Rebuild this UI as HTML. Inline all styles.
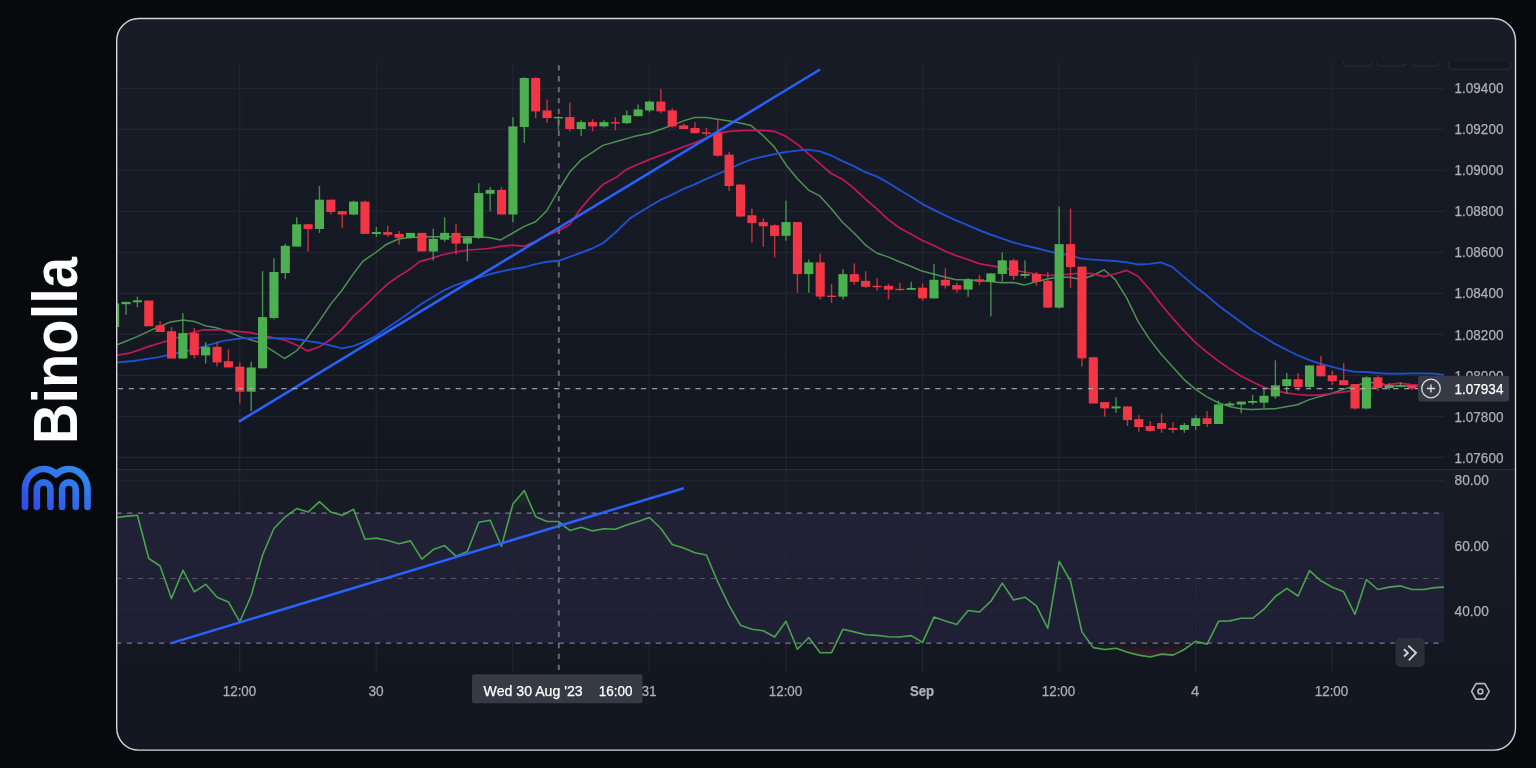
<!DOCTYPE html>
<html lang="en">
<head>
<meta charset="utf-8">
<title>Binolla chart</title>
<style>
html,body{margin:0;padding:0;background:#08090d;}
body{width:1536px;height:768px;overflow:hidden;position:relative;font-family:"Liberation Sans",sans-serif;}
svg{position:absolute;left:0;top:0;display:block;}
text{font-family:"Liberation Sans",sans-serif;}
</style>
</head>
<body>
<svg width="1536" height="768" viewBox="0 0 1536 768" style="will-change:transform">
<defs>
<linearGradient id="panebg" x1="0" y1="0" x2="0" y2="1">
<stop offset="0" stop-color="#181c27"/>
<stop offset="1" stop-color="#131722"/>
</linearGradient>
<linearGradient id="logog" gradientUnits="userSpaceOnUse" x1="40" y1="512" x2="72" y2="464">
<stop offset="0" stop-color="#2f4fe6"/>
<stop offset="1" stop-color="#2f8bee"/>
</linearGradient>
<linearGradient id="obfill" gradientUnits="userSpaceOnUse" x1="0" y1="488" x2="0" y2="513">
<stop offset="0" stop-color="#4caf50" stop-opacity="0.17"/>
<stop offset="1" stop-color="#4caf50" stop-opacity="0"/>
</linearGradient>
<linearGradient id="osfill" gradientUnits="userSpaceOnUse" x1="0" y1="643" x2="0" y2="660">
<stop offset="0" stop-color="#f23645" stop-opacity="0"/>
<stop offset="1" stop-color="#f23645" stop-opacity="0.22"/>
</linearGradient>
<clipPath id="cardclip"><rect x="117.2" y="19.2" width="1397.8" height="730.3" rx="21.3" ry="21.3"/></clipPath>
<clipPath id="plotclip"><rect x="117.1" y="62" width="1327.1" height="612"/></clipPath>
<clipPath id="above70"><rect x="117" y="470" width="1327" height="42.8"/></clipPath>
<clipPath id="below30"><rect x="117" y="642.9" width="1327" height="30"/></clipPath>
</defs>

<rect x="116.7" y="18.5" width="1398.8" height="731.6" rx="22" ry="22" fill="#131722" stroke="none"/>
<g clip-path="url(#cardclip)">
<rect x="116" y="18" width="1400" height="451.5" fill="url(#panebg)"/>
<rect x="116" y="469.5" width="1400" height="204" fill="url(#panebg)"/>
<g fill="none" stroke="#2a2e3a" stroke-width="1">
<path d="M1343.2 62 V62 Q1343.2 66 1347.2 66 H1367.8 Q1371.8 66 1371.8 62 V62"/>
<path d="M1376.6 62 V62 Q1376.6 66 1380.6 66 H1402 Q1406 66 1406 62 V62"/>
<path d="M1410.75 62 V62 Q1410.75 66 1414.75 66 H1435.1 Q1439.1 66 1439.1 62 V62"/>
<path d="M1449 62 V65.3 Q1449 69.3 1453 69.3 H1506.7 Q1510.7 69.3 1510.7 65.3 V62" fill="#141823"/>
</g>
<rect x="117.4" y="512.8" width="1326.8" height="130.1" fill="#7e57c2" fill-opacity="0.115"/>
<g stroke="#212530" stroke-width="1.3">
<line x1="117.4" y1="88.3" x2="1444.3" y2="88.3"/>
<line x1="117.4" y1="129.3" x2="1444.3" y2="129.3"/>
<line x1="117.4" y1="170.3" x2="1444.3" y2="170.3"/>
<line x1="117.4" y1="211.3" x2="1444.3" y2="211.3"/>
<line x1="117.4" y1="252.3" x2="1444.3" y2="252.3"/>
<line x1="117.4" y1="293.3" x2="1444.3" y2="293.3"/>
<line x1="117.4" y1="334.3" x2="1444.3" y2="334.3"/>
<line x1="117.4" y1="375.3" x2="1444.3" y2="375.3"/>
<line x1="117.4" y1="416.3" x2="1444.3" y2="416.3"/>
<line x1="117.4" y1="457.3" x2="1444.3" y2="457.3"/>
<line x1="117.4" y1="480.5" x2="1444.3" y2="480.5"/>
<line x1="117.4" y1="545.2" x2="1444.3" y2="545.2"/>
<line x1="117.4" y1="610.5" x2="1444.3" y2="610.5"/>
<line x1="239.7" y1="62" x2="239.7" y2="673"/>
<line x1="376.2" y1="62" x2="376.2" y2="673"/>
<line x1="512.8" y1="62" x2="512.8" y2="673"/>
<line x1="649.3" y1="62" x2="649.3" y2="673"/>
<line x1="785.9" y1="62" x2="785.9" y2="673"/>
<line x1="922.5" y1="62" x2="922.5" y2="673"/>
<line x1="1059.0" y1="62" x2="1059.0" y2="673"/>
<line x1="1195.6" y1="62" x2="1195.6" y2="673"/>
<line x1="1332.1" y1="62" x2="1332.1" y2="673"/>
</g>
<line x1="117.4" y1="469.5" x2="1515" y2="469.5" stroke="#2a2e39" stroke-width="1.2"/>
<g clip-path="url(#plotclip)">
<g fill="none" stroke-dasharray="5.3 5.5" stroke="#787b86">
<line x1="116.3" y1="513.1" x2="1444" y2="513.1" stroke-width="1.35"/>
<line x1="115.8" y1="643.1" x2="1444" y2="643.1" stroke-width="1.35"/>
<line x1="116.3" y1="578.5" x2="1444" y2="578.5" stroke-width="1.1" stroke-opacity="0.6"/>
</g>
<polygon clip-path="url(#above70)" fill="url(#obfill)" points="114.6,512.8 114.6,517.8 126.0,516.4 137.4,515.2 148.8,558.5 160.1,566.0 171.5,598.4 182.9,570.2 194.3,591.8 205.7,584.3 217.0,597.2 228.4,601.9 239.8,621.8 251.2,595.5 262.6,555.0 273.9,528.5 285.3,516.8 296.7,508.6 308.1,512.1 319.5,501.6 330.8,512.1 342.2,515.2 353.6,509.3 365.0,539.3 376.4,538.1 387.7,540.5 399.1,543.8 410.5,540.9 421.9,559.2 433.3,549.6 444.6,545.6 456.0,556.2 467.4,551.5 478.8,522.2 490.2,520.3 501.5,546.3 512.9,504.1 524.3,490.5 535.7,516.8 547.1,521.5 558.4,521.5 569.8,530.4 581.2,527.3 592.6,530.9 604.0,528.8 615.3,529.2 626.7,525.0 638.1,521.5 649.5,517.5 660.9,528.5 672.2,544.5 683.6,548.0 695.0,552.7 706.4,555.0 717.8,582.0 729.1,605.4 740.5,625.3 751.9,629.3 763.3,630.7 774.7,637.0 786.0,621.3 797.4,649.2 808.8,637.5 820.2,652.7 831.6,652.7 842.9,629.3 854.3,631.9 865.7,634.7 877.1,635.4 888.5,636.8 899.8,637.0 911.2,635.6 922.6,642.4 934.0,617.1 945.4,621.1 956.7,624.6 968.1,610.5 979.5,612.0 990.9,601.2 1002.3,583.1 1013.6,600.0 1025.0,597.2 1036.4,605.9 1047.8,628.4 1059.2,561.3 1070.5,580.8 1081.9,631.9 1093.3,647.6 1104.7,649.5 1116.1,648.3 1127.4,652.3 1138.8,655.1 1150.2,657.0 1161.6,654.1 1173.0,655.1 1184.3,649.5 1195.7,641.2 1207.1,644.1 1218.5,621.3 1229.9,620.9 1241.2,618.3 1252.6,618.3 1264.0,609.2 1275.4,596.5 1286.8,588.3 1298.1,596.0 1309.5,570.7 1320.9,580.8 1332.3,587.3 1343.7,591.8 1355.0,614.3 1366.4,579.6 1377.8,589.5 1389.2,587.1 1400.6,585.9 1411.9,589.5 1423.3,589.5 1434.7,587.6 1444.2,587.1 1444.2,512.8"/>
<polygon clip-path="url(#below30)" fill="url(#osfill)" points="114.6,642.9 114.6,517.8 126.0,516.4 137.4,515.2 148.8,558.5 160.1,566.0 171.5,598.4 182.9,570.2 194.3,591.8 205.7,584.3 217.0,597.2 228.4,601.9 239.8,621.8 251.2,595.5 262.6,555.0 273.9,528.5 285.3,516.8 296.7,508.6 308.1,512.1 319.5,501.6 330.8,512.1 342.2,515.2 353.6,509.3 365.0,539.3 376.4,538.1 387.7,540.5 399.1,543.8 410.5,540.9 421.9,559.2 433.3,549.6 444.6,545.6 456.0,556.2 467.4,551.5 478.8,522.2 490.2,520.3 501.5,546.3 512.9,504.1 524.3,490.5 535.7,516.8 547.1,521.5 558.4,521.5 569.8,530.4 581.2,527.3 592.6,530.9 604.0,528.8 615.3,529.2 626.7,525.0 638.1,521.5 649.5,517.5 660.9,528.5 672.2,544.5 683.6,548.0 695.0,552.7 706.4,555.0 717.8,582.0 729.1,605.4 740.5,625.3 751.9,629.3 763.3,630.7 774.7,637.0 786.0,621.3 797.4,649.2 808.8,637.5 820.2,652.7 831.6,652.7 842.9,629.3 854.3,631.9 865.7,634.7 877.1,635.4 888.5,636.8 899.8,637.0 911.2,635.6 922.6,642.4 934.0,617.1 945.4,621.1 956.7,624.6 968.1,610.5 979.5,612.0 990.9,601.2 1002.3,583.1 1013.6,600.0 1025.0,597.2 1036.4,605.9 1047.8,628.4 1059.2,561.3 1070.5,580.8 1081.9,631.9 1093.3,647.6 1104.7,649.5 1116.1,648.3 1127.4,652.3 1138.8,655.1 1150.2,657.0 1161.6,654.1 1173.0,655.1 1184.3,649.5 1195.7,641.2 1207.1,644.1 1218.5,621.3 1229.9,620.9 1241.2,618.3 1252.6,618.3 1264.0,609.2 1275.4,596.5 1286.8,588.3 1298.1,596.0 1309.5,570.7 1320.9,580.8 1332.3,587.3 1343.7,591.8 1355.0,614.3 1366.4,579.6 1377.8,589.5 1389.2,587.1 1400.6,585.9 1411.9,589.5 1423.3,589.5 1434.7,587.6 1444.2,587.1 1444.2,642.9"/>
<polyline fill="none" stroke="#4caf50" stroke-opacity="0.92" stroke-width="1.6" stroke-linejoin="round" points="114.6,517.8 126.0,516.4 137.4,515.2 148.8,558.5 160.1,566.0 171.5,598.4 182.9,570.2 194.3,591.8 205.7,584.3 217.0,597.2 228.4,601.9 239.8,621.8 251.2,595.5 262.6,555.0 273.9,528.5 285.3,516.8 296.7,508.6 308.1,512.1 319.5,501.6 330.8,512.1 342.2,515.2 353.6,509.3 365.0,539.3 376.4,538.1 387.7,540.5 399.1,543.8 410.5,540.9 421.9,559.2 433.3,549.6 444.6,545.6 456.0,556.2 467.4,551.5 478.8,522.2 490.2,520.3 501.5,546.3 512.9,504.1 524.3,490.5 535.7,516.8 547.1,521.5 558.4,521.5 569.8,530.4 581.2,527.3 592.6,530.9 604.0,528.8 615.3,529.2 626.7,525.0 638.1,521.5 649.5,517.5 660.9,528.5 672.2,544.5 683.6,548.0 695.0,552.7 706.4,555.0 717.8,582.0 729.1,605.4 740.5,625.3 751.9,629.3 763.3,630.7 774.7,637.0 786.0,621.3 797.4,649.2 808.8,637.5 820.2,652.7 831.6,652.7 842.9,629.3 854.3,631.9 865.7,634.7 877.1,635.4 888.5,636.8 899.8,637.0 911.2,635.6 922.6,642.4 934.0,617.1 945.4,621.1 956.7,624.6 968.1,610.5 979.5,612.0 990.9,601.2 1002.3,583.1 1013.6,600.0 1025.0,597.2 1036.4,605.9 1047.8,628.4 1059.2,561.3 1070.5,580.8 1081.9,631.9 1093.3,647.6 1104.7,649.5 1116.1,648.3 1127.4,652.3 1138.8,655.1 1150.2,657.0 1161.6,654.1 1173.0,655.1 1184.3,649.5 1195.7,641.2 1207.1,644.1 1218.5,621.3 1229.9,620.9 1241.2,618.3 1252.6,618.3 1264.0,609.2 1275.4,596.5 1286.8,588.3 1298.1,596.0 1309.5,570.7 1320.9,580.8 1332.3,587.3 1343.7,591.8 1355.0,614.3 1366.4,579.6 1377.8,589.5 1389.2,587.1 1400.6,585.9 1411.9,589.5 1423.3,589.5 1434.7,587.6 1444.2,587.1"/>
<polyline fill="none" stroke="#5bb05e" stroke-opacity="0.8" stroke-width="1.5" stroke-linejoin="round" points="114.0,346.0 117.8,344.5 137.3,336.6 154.9,328.4 170.5,322.0 183.2,320.0 194.0,321.4 205.7,325.9 215.5,327.5 227.2,331.2 239.9,336.6 258.4,342.1 272.1,350.3 284.4,358.5 290.0,355.2 297.0,350.5 307.7,337.2 318.9,321.6 330.6,304.4 342.0,290.3 353.3,273.9 363.3,260.8 375.0,253.0 386.7,244.2 398.4,239.0 410.2,237.4 430.0,236.8 474.9,236.8 488.6,237.4 500.7,239.9 512.0,233.5 523.8,226.6 535.5,221.8 546.6,211.0 558.9,189.5 569.6,172.3 581.4,159.6 602.9,145.4 620.0,140.5 633.7,136.6 649.3,133.2 661.0,129.3 671.8,125.4 683.5,120.9 694.2,117.6 705.9,117.6 717.6,119.2 729.4,120.9 740.1,122.9 750.9,125.4 762.6,135.2 774.3,146.9 785.9,164.7 797.2,178.4 808.5,190.1 819.8,195.9 831.2,208.6 842.5,222.3 853.8,232.7 865.2,244.8 876.5,253.0 888.0,256.9 899.3,261.8 910.7,266.2 921.9,271.1 933.4,274.0 944.7,276.9 956.1,279.8 967.4,279.8 978.9,280.4 990.2,281.4 1001.6,282.8 1012.9,282.4 1024.4,285.1 1035.7,281.8 1047.1,278.9 1058.4,276.9 1069.9,277.3 1081.2,279.4 1092.6,275.5 1104.0,269.8 1115.3,279.6 1126.8,298.1 1138.1,321.6 1149.5,339.1 1160.8,353.8 1172.3,366.5 1183.6,379.1 1195.0,388.9 1206.5,396.7 1217.8,402.5 1229.1,406.4 1240.5,408.8 1251.8,409.4 1263.3,409.1 1274.6,408.7 1286.0,406.8 1297.3,404.8 1308.8,399.9 1320.1,396.4 1331.4,393.5 1342.8,389.6 1354.3,385.7 1365.6,383.1 1377.0,382.3 1388.3,385.7 1399.8,386.0 1411.1,386.0 1422.5,385.7 1433.9,385.7 1444.0,385.7"/>
<polyline fill="none" stroke="#c2185b" stroke-width="1.7" stroke-linejoin="round" points="114.0,356.0 117.8,355.2 129.5,353.2 149.0,346.4 168.6,340.5 188.1,333.7 203.8,329.8 219.4,329.8 235.0,331.2 250.6,332.7 266.2,336.2 285.8,340.5 290.0,342.2 297.0,345.3 307.7,350.9 318.9,347.0 330.6,339.5 342.0,329.4 353.3,316.1 364.7,306.2 375.9,295.0 387.3,284.1 398.6,276.2 408.8,270.0 420.0,261.4 430.0,258.9 441.7,255.0 455.4,252.0 469.0,250.0 488.6,248.5 502.3,246.2 512.0,245.2 523.8,246.2 535.5,241.3 547.2,235.4 558.9,230.5 569.6,224.7 580.4,209.0 592.1,195.4 602.9,184.6 615.5,177.8 625.9,169.8 637.6,164.5 649.3,159.6 661.0,155.3 671.8,151.4 683.5,146.9 694.2,143.0 705.9,138.1 717.6,133.2 729.4,131.3 740.1,130.7 750.9,130.3 762.6,130.3 774.3,131.3 785.9,136.4 797.2,144.2 808.5,153.9 819.8,163.7 831.2,173.5 842.5,179.3 853.8,188.1 865.2,198.9 876.5,208.6 888.0,219.4 899.3,227.8 910.7,234.0 921.9,240.2 933.4,245.3 944.7,251.0 956.1,255.6 967.4,259.2 978.9,263.6 990.2,265.6 1001.6,267.7 1012.9,270.1 1024.4,272.0 1035.7,274.0 1047.1,275.5 1058.4,275.0 1069.9,274.0 1081.5,273.1 1092.6,273.7 1104.0,276.6 1115.3,273.7 1126.8,270.4 1138.1,276.2 1149.5,289.3 1160.8,304.0 1172.3,317.7 1183.6,330.4 1195.0,342.1 1206.5,351.8 1217.8,360.6 1229.1,368.4 1240.5,375.8 1251.8,381.6 1263.3,387.0 1274.6,390.5 1286.0,392.9 1297.3,394.5 1308.8,395.4 1320.1,394.8 1331.4,393.5 1342.8,392.1 1354.3,390.5 1365.6,388.6 1377.0,385.7 1388.3,384.7 1399.8,383.1 1411.1,384.7 1422.5,385.3 1433.9,385.5 1444.0,385.5"/>
<polyline fill="none" stroke="#1e50cf" stroke-width="1.9" stroke-linejoin="round" points="114.0,362.6 117.8,362.4 133.4,361.0 158.8,357.1 176.4,353.2 192.0,349.9 207.7,345.4 223.3,340.9 238.9,338.6 258.4,337.8 278.0,338.2 290.0,338.8 300.9,339.8 308.0,341.1 318.9,342.7 330.6,345.5 342.0,348.4 353.3,346.1 364.7,341.6 375.9,336.1 387.3,327.8 398.6,320.3 410.0,312.2 421.2,304.1 432.5,297.3 443.9,290.3 455.4,285.2 469.0,280.4 482.7,276.4 496.4,272.5 512.0,269.2 523.8,267.3 535.5,264.1 547.2,261.8 558.9,260.8 569.6,256.9 580.4,253.0 592.1,248.5 602.9,243.2 615.5,232.5 630.0,218.4 643.4,210.0 661.0,199.6 671.8,194.8 683.5,188.9 694.2,184.6 705.9,179.1 717.6,174.2 729.4,169.0 740.1,163.9 750.9,159.6 762.6,156.7 774.3,154.1 785.9,152.0 797.2,150.6 808.5,149.6 819.8,151.4 831.2,155.5 842.5,161.2 853.8,166.2 865.2,172.1 876.5,176.4 888.0,182.7 899.3,189.7 910.7,196.5 922.0,203.8 933.3,209.6 944.6,215.1 956.0,220.4 967.5,225.2 978.9,230.0 990.2,234.5 1001.6,238.4 1012.9,242.3 1024.4,245.3 1035.7,248.0 1047.1,250.9 1058.4,253.5 1069.9,255.3 1081.5,258.6 1092.6,259.6 1104.0,260.4 1115.3,261.0 1126.8,262.4 1138.1,264.5 1149.5,263.9 1160.8,262.4 1172.3,266.9 1183.6,276.6 1195.0,286.4 1206.5,295.2 1217.8,305.0 1229.1,313.5 1240.5,321.7 1251.8,330.0 1263.3,336.8 1274.6,343.7 1286.0,349.5 1297.3,355.0 1308.8,359.9 1320.1,363.6 1331.4,366.7 1342.8,369.6 1354.3,371.6 1365.6,372.0 1377.0,373.0 1388.3,373.6 1399.8,373.8 1411.1,373.4 1422.5,373.4 1433.6,373.6 1444.3,374.9"/>
<g>
<rect x="110.07" y="303.4" width="9.1" height="23.6" fill="#4caf50"/>
<rect x="125.30" y="301.9" width="1.4" height="12.9" fill="#4caf50" fill-opacity="0.8"/>
<rect x="121.45" y="301.9" width="9.1" height="2.3" fill="#4caf50"/>
<rect x="136.68" y="296.6" width="1.4" height="10.7" fill="#4caf50" fill-opacity="0.8"/>
<rect x="132.83" y="300.3" width="9.1" height="2.0" fill="#4caf50"/>
<rect x="144.21" y="300.5" width="9.1" height="25.8" fill="#f23645"/>
<rect x="159.44" y="321.0" width="1.4" height="11.0" fill="#f23645" fill-opacity="0.8"/>
<rect x="155.59" y="325.3" width="9.1" height="6.7" fill="#f23645"/>
<rect x="170.82" y="326.9" width="1.4" height="31.6" fill="#f23645" fill-opacity="0.8"/>
<rect x="166.97" y="331.2" width="9.1" height="27.3" fill="#f23645"/>
<rect x="182.20" y="313.2" width="1.4" height="45.3" fill="#4caf50" fill-opacity="0.8"/>
<rect x="178.35" y="333.1" width="9.1" height="25.4" fill="#4caf50"/>
<rect x="193.58" y="327.9" width="1.4" height="30.6" fill="#f23645" fill-opacity="0.8"/>
<rect x="189.73" y="333.1" width="9.1" height="22.1" fill="#f23645"/>
<rect x="204.96" y="342.1" width="1.4" height="21.5" fill="#4caf50" fill-opacity="0.8"/>
<rect x="201.11" y="346.8" width="9.1" height="8.6" fill="#4caf50"/>
<rect x="216.34" y="341.7" width="1.4" height="24.6" fill="#f23645" fill-opacity="0.8"/>
<rect x="212.49" y="346.8" width="9.1" height="15.6" fill="#f23645"/>
<rect x="227.72" y="349.3" width="1.4" height="18.2" fill="#f23645" fill-opacity="0.8"/>
<rect x="223.87" y="361.2" width="9.1" height="6.2" fill="#f23645"/>
<rect x="239.10" y="362.4" width="1.4" height="41.0" fill="#f23645" fill-opacity="0.8"/>
<rect x="235.25" y="366.7" width="9.1" height="25.0" fill="#f23645"/>
<rect x="250.48" y="361.6" width="1.4" height="49.6" fill="#4caf50" fill-opacity="0.8"/>
<rect x="246.63" y="367.5" width="9.1" height="24.2" fill="#4caf50"/>
<rect x="261.86" y="271.2" width="1.4" height="97.1" fill="#4caf50" fill-opacity="0.8"/>
<rect x="258.01" y="317.1" width="9.1" height="51.2" fill="#4caf50"/>
<rect x="273.24" y="258.3" width="1.4" height="61.1" fill="#4caf50" fill-opacity="0.8"/>
<rect x="269.39" y="272.0" width="9.1" height="46.0" fill="#4caf50"/>
<rect x="284.62" y="243.8" width="1.4" height="35.2" fill="#4caf50" fill-opacity="0.8"/>
<rect x="280.77" y="245.8" width="9.1" height="27.3" fill="#4caf50"/>
<rect x="296.00" y="217.3" width="1.4" height="29.3" fill="#4caf50" fill-opacity="0.8"/>
<rect x="292.15" y="224.3" width="9.1" height="22.3" fill="#4caf50"/>
<rect x="307.38" y="224.3" width="1.4" height="27.3" fill="#f23645" fill-opacity="0.8"/>
<rect x="303.53" y="224.3" width="9.1" height="4.7" fill="#f23645"/>
<rect x="318.76" y="186.0" width="1.4" height="46.9" fill="#4caf50" fill-opacity="0.8"/>
<rect x="314.91" y="199.7" width="9.1" height="29.3" fill="#4caf50"/>
<rect x="330.14" y="199.7" width="1.4" height="14.8" fill="#f23645" fill-opacity="0.8"/>
<rect x="326.29" y="199.7" width="9.1" height="12.3" fill="#f23645"/>
<rect x="341.52" y="211.2" width="1.4" height="17.0" fill="#f23645" fill-opacity="0.8"/>
<rect x="337.67" y="211.2" width="9.1" height="3.3" fill="#f23645"/>
<rect x="352.90" y="200.7" width="1.4" height="14.6" fill="#4caf50" fill-opacity="0.8"/>
<rect x="349.05" y="201.6" width="9.1" height="12.9" fill="#4caf50"/>
<rect x="364.28" y="200.7" width="1.4" height="33.2" fill="#f23645" fill-opacity="0.8"/>
<rect x="360.43" y="201.6" width="9.1" height="32.3" fill="#f23645"/>
<rect x="375.66" y="227.0" width="1.4" height="9.8" fill="#4caf50" fill-opacity="0.8"/>
<rect x="371.81" y="232.1" width="9.1" height="1.9" fill="#4caf50"/>
<rect x="387.04" y="226.0" width="1.4" height="10.8" fill="#f23645" fill-opacity="0.8"/>
<rect x="383.19" y="232.1" width="9.1" height="2.7" fill="#f23645"/>
<rect x="398.42" y="231.0" width="1.4" height="13.8" fill="#f23645" fill-opacity="0.8"/>
<rect x="394.57" y="234.0" width="9.1" height="3.8" fill="#f23645"/>
<rect x="409.80" y="232.9" width="1.4" height="5.8" fill="#4caf50" fill-opacity="0.8"/>
<rect x="405.95" y="232.9" width="9.1" height="4.9" fill="#4caf50"/>
<rect x="417.33" y="232.9" width="9.1" height="18.5" fill="#f23645"/>
<rect x="432.56" y="228.6" width="1.4" height="31.8" fill="#4caf50" fill-opacity="0.8"/>
<rect x="428.71" y="238.8" width="9.1" height="12.7" fill="#4caf50"/>
<rect x="443.94" y="217.3" width="1.4" height="24.4" fill="#4caf50" fill-opacity="0.8"/>
<rect x="440.09" y="232.9" width="9.1" height="6.8" fill="#4caf50"/>
<rect x="455.32" y="224.1" width="1.4" height="30.5" fill="#f23645" fill-opacity="0.8"/>
<rect x="451.47" y="232.9" width="9.1" height="10.7" fill="#f23645"/>
<rect x="466.70" y="236.4" width="1.4" height="25.0" fill="#4caf50" fill-opacity="0.8"/>
<rect x="462.85" y="237.4" width="9.1" height="6.2" fill="#4caf50"/>
<rect x="478.08" y="183.1" width="1.4" height="55.7" fill="#4caf50" fill-opacity="0.8"/>
<rect x="474.23" y="193.0" width="9.1" height="44.8" fill="#4caf50"/>
<rect x="489.46" y="187.0" width="1.4" height="24.4" fill="#4caf50" fill-opacity="0.8"/>
<rect x="485.61" y="189.9" width="9.1" height="3.9" fill="#4caf50"/>
<rect x="500.84" y="187.0" width="1.4" height="27.5" fill="#f23645" fill-opacity="0.8"/>
<rect x="496.99" y="189.9" width="9.1" height="24.6" fill="#f23645"/>
<rect x="512.22" y="117.2" width="1.4" height="105.1" fill="#4caf50" fill-opacity="0.8"/>
<rect x="508.37" y="126.4" width="9.1" height="88.1" fill="#4caf50"/>
<rect x="523.60" y="77.2" width="1.4" height="65.8" fill="#4caf50" fill-opacity="0.8"/>
<rect x="519.75" y="78.0" width="9.1" height="49.0" fill="#4caf50"/>
<rect x="534.98" y="77.2" width="1.4" height="41.0" fill="#f23645" fill-opacity="0.8"/>
<rect x="531.13" y="78.0" width="9.1" height="33.4" fill="#f23645"/>
<rect x="546.36" y="99.6" width="1.4" height="23.4" fill="#f23645" fill-opacity="0.8"/>
<rect x="542.51" y="110.4" width="9.1" height="7.6" fill="#f23645"/>
<rect x="557.74" y="116.2" width="1.4" height="14.1" fill="#4caf50" fill-opacity="0.8"/>
<rect x="553.89" y="117.0" width="9.1" height="1.3" fill="#4caf50"/>
<rect x="569.12" y="102.6" width="1.4" height="28.7" fill="#f23645" fill-opacity="0.8"/>
<rect x="565.27" y="117.0" width="9.1" height="12.0" fill="#f23645"/>
<rect x="580.50" y="120.2" width="1.4" height="16.0" fill="#4caf50" fill-opacity="0.8"/>
<rect x="576.65" y="122.1" width="9.1" height="6.9" fill="#4caf50"/>
<rect x="591.88" y="119.2" width="1.4" height="12.1" fill="#f23645" fill-opacity="0.8"/>
<rect x="588.03" y="122.1" width="9.1" height="4.3" fill="#f23645"/>
<rect x="603.26" y="120.2" width="1.4" height="7.2" fill="#4caf50" fill-opacity="0.8"/>
<rect x="599.41" y="122.1" width="9.1" height="4.3" fill="#4caf50"/>
<rect x="614.64" y="117.2" width="1.4" height="13.1" fill="#f23645" fill-opacity="0.8"/>
<rect x="610.79" y="122.1" width="9.1" height="1.4" fill="#f23645"/>
<rect x="626.02" y="110.4" width="1.4" height="13.6" fill="#4caf50" fill-opacity="0.8"/>
<rect x="622.17" y="115.3" width="9.1" height="7.8" fill="#4caf50"/>
<rect x="637.40" y="104.5" width="1.4" height="11.8" fill="#4caf50" fill-opacity="0.8"/>
<rect x="633.55" y="109.4" width="9.1" height="6.8" fill="#4caf50"/>
<rect x="648.78" y="100.6" width="1.4" height="11.7" fill="#4caf50" fill-opacity="0.8"/>
<rect x="644.93" y="101.6" width="9.1" height="8.8" fill="#4caf50"/>
<rect x="660.16" y="88.9" width="1.4" height="24.4" fill="#f23645" fill-opacity="0.8"/>
<rect x="656.31" y="101.6" width="9.1" height="9.8" fill="#f23645"/>
<rect x="671.54" y="108.2" width="1.4" height="19.2" fill="#f23645" fill-opacity="0.8"/>
<rect x="667.69" y="110.4" width="9.1" height="16.0" fill="#f23645"/>
<rect x="682.92" y="123.5" width="1.4" height="5.5" fill="#f23645" fill-opacity="0.8"/>
<rect x="679.07" y="125.4" width="9.1" height="3.6" fill="#f23645"/>
<rect x="694.30" y="122.1" width="1.4" height="11.1" fill="#f23645" fill-opacity="0.8"/>
<rect x="690.45" y="128.0" width="9.1" height="5.2" fill="#f23645"/>
<rect x="705.68" y="128.0" width="1.4" height="8.2" fill="#f23645" fill-opacity="0.8"/>
<rect x="701.83" y="132.3" width="9.1" height="1.5" fill="#f23645"/>
<rect x="717.06" y="119.2" width="1.4" height="37.5" fill="#f23645" fill-opacity="0.8"/>
<rect x="713.21" y="132.9" width="9.1" height="22.8" fill="#f23645"/>
<rect x="728.44" y="151.8" width="1.4" height="39.1" fill="#f23645" fill-opacity="0.8"/>
<rect x="724.59" y="154.7" width="9.1" height="31.3" fill="#f23645"/>
<rect x="739.82" y="183.7" width="1.4" height="33.6" fill="#f23645" fill-opacity="0.8"/>
<rect x="735.97" y="184.6" width="9.1" height="31.9" fill="#f23645"/>
<rect x="751.20" y="208.5" width="1.4" height="34.4" fill="#f23645" fill-opacity="0.8"/>
<rect x="747.35" y="215.3" width="9.1" height="7.8" fill="#f23645"/>
<rect x="762.58" y="218.2" width="1.4" height="28.6" fill="#f23645" fill-opacity="0.8"/>
<rect x="758.73" y="222.1" width="9.1" height="4.2" fill="#f23645"/>
<rect x="773.96" y="224.3" width="1.4" height="33.2" fill="#f23645" fill-opacity="0.8"/>
<rect x="770.11" y="225.3" width="9.1" height="10.7" fill="#f23645"/>
<rect x="785.34" y="200.7" width="1.4" height="40.0" fill="#4caf50" fill-opacity="0.8"/>
<rect x="781.49" y="222.1" width="9.1" height="13.7" fill="#4caf50"/>
<rect x="796.72" y="222.1" width="1.4" height="70.6" fill="#f23645" fill-opacity="0.8"/>
<rect x="792.87" y="222.1" width="9.1" height="52.0" fill="#f23645"/>
<rect x="808.10" y="259.5" width="1.4" height="33.2" fill="#4caf50" fill-opacity="0.8"/>
<rect x="804.25" y="262.4" width="9.1" height="11.7" fill="#4caf50"/>
<rect x="819.48" y="253.6" width="1.4" height="45.9" fill="#f23645" fill-opacity="0.8"/>
<rect x="815.63" y="262.4" width="9.1" height="34.2" fill="#f23645"/>
<rect x="830.86" y="283.9" width="1.4" height="18.9" fill="#f23645" fill-opacity="0.8"/>
<rect x="827.01" y="295.6" width="9.1" height="1.4" fill="#f23645"/>
<rect x="842.24" y="269.2" width="1.4" height="30.3" fill="#4caf50" fill-opacity="0.8"/>
<rect x="838.39" y="274.1" width="9.1" height="22.5" fill="#4caf50"/>
<rect x="853.62" y="263.4" width="1.4" height="21.4" fill="#f23645" fill-opacity="0.8"/>
<rect x="849.77" y="274.1" width="9.1" height="7.8" fill="#f23645"/>
<rect x="865.00" y="271.2" width="1.4" height="16.6" fill="#f23645" fill-opacity="0.8"/>
<rect x="861.15" y="280.9" width="9.1" height="5.9" fill="#f23645"/>
<rect x="876.38" y="278.0" width="1.4" height="12.7" fill="#f23645" fill-opacity="0.8"/>
<rect x="872.53" y="285.8" width="9.1" height="1.4" fill="#f23645"/>
<rect x="887.76" y="284.0" width="1.4" height="15.5" fill="#f23645" fill-opacity="0.8"/>
<rect x="883.91" y="285.8" width="9.1" height="3.9" fill="#f23645"/>
<rect x="899.14" y="282.9" width="1.4" height="7.8" fill="#f23645" fill-opacity="0.8"/>
<rect x="895.29" y="288.8" width="9.1" height="1.3" fill="#f23645"/>
<rect x="910.52" y="281.8" width="1.4" height="8.0" fill="#4caf50" fill-opacity="0.8"/>
<rect x="906.67" y="288.0" width="9.1" height="1.8" fill="#4caf50"/>
<rect x="921.90" y="283.4" width="1.4" height="17.3" fill="#f23645" fill-opacity="0.8"/>
<rect x="918.05" y="287.7" width="9.1" height="10.7" fill="#f23645"/>
<rect x="933.28" y="264.2" width="1.4" height="34.2" fill="#4caf50" fill-opacity="0.8"/>
<rect x="929.43" y="279.8" width="9.1" height="18.6" fill="#4caf50"/>
<rect x="944.66" y="268.1" width="1.4" height="20.5" fill="#f23645" fill-opacity="0.8"/>
<rect x="940.81" y="279.8" width="9.1" height="5.9" fill="#f23645"/>
<rect x="956.04" y="282.8" width="1.4" height="9.7" fill="#f23645" fill-opacity="0.8"/>
<rect x="952.19" y="285.1" width="9.1" height="4.5" fill="#f23645"/>
<rect x="967.42" y="278.0" width="1.4" height="18.8" fill="#4caf50" fill-opacity="0.8"/>
<rect x="963.57" y="279.5" width="9.1" height="10.1" fill="#4caf50"/>
<rect x="978.80" y="275.0" width="1.4" height="10.1" fill="#f23645" fill-opacity="0.8"/>
<rect x="974.95" y="279.3" width="9.1" height="2.5" fill="#f23645"/>
<rect x="990.18" y="273.4" width="1.4" height="43.0" fill="#4caf50" fill-opacity="0.8"/>
<rect x="986.33" y="273.4" width="9.1" height="8.4" fill="#4caf50"/>
<rect x="1001.56" y="252.5" width="1.4" height="29.3" fill="#4caf50" fill-opacity="0.8"/>
<rect x="997.71" y="260.3" width="9.1" height="13.7" fill="#4caf50"/>
<rect x="1012.94" y="258.7" width="1.4" height="21.1" fill="#f23645" fill-opacity="0.8"/>
<rect x="1009.09" y="260.3" width="9.1" height="15.6" fill="#f23645"/>
<rect x="1024.32" y="260.3" width="1.4" height="18.0" fill="#4caf50" fill-opacity="0.8"/>
<rect x="1020.47" y="274.0" width="9.1" height="1.9" fill="#4caf50"/>
<rect x="1035.70" y="272.0" width="1.4" height="13.7" fill="#f23645" fill-opacity="0.8"/>
<rect x="1031.85" y="274.0" width="9.1" height="7.8" fill="#f23645"/>
<rect x="1047.08" y="272.0" width="1.4" height="35.6" fill="#f23645" fill-opacity="0.8"/>
<rect x="1043.23" y="280.8" width="9.1" height="26.8" fill="#f23645"/>
<rect x="1058.46" y="206.6" width="1.4" height="102.0" fill="#4caf50" fill-opacity="0.8"/>
<rect x="1054.61" y="244.1" width="9.1" height="63.5" fill="#4caf50"/>
<rect x="1069.84" y="208.6" width="1.4" height="79.1" fill="#f23645" fill-opacity="0.8"/>
<rect x="1065.99" y="244.1" width="9.1" height="23.0" fill="#f23645"/>
<rect x="1081.22" y="266.6" width="1.4" height="99.9" fill="#f23645" fill-opacity="0.8"/>
<rect x="1077.37" y="266.6" width="9.1" height="91.7" fill="#f23645"/>
<rect x="1088.75" y="357.2" width="9.1" height="46.3" fill="#f23645"/>
<rect x="1103.98" y="402.1" width="1.4" height="14.5" fill="#f23645" fill-opacity="0.8"/>
<rect x="1100.13" y="402.1" width="9.1" height="6.3" fill="#f23645"/>
<rect x="1115.36" y="397.3" width="1.4" height="15.4" fill="#4caf50" fill-opacity="0.8"/>
<rect x="1111.51" y="406.4" width="9.1" height="2.0" fill="#4caf50"/>
<rect x="1126.74" y="406.4" width="1.4" height="19.6" fill="#f23645" fill-opacity="0.8"/>
<rect x="1122.89" y="406.4" width="9.1" height="13.7" fill="#f23645"/>
<rect x="1138.12" y="415.2" width="1.4" height="16.6" fill="#f23645" fill-opacity="0.8"/>
<rect x="1134.27" y="419.1" width="9.1" height="7.9" fill="#f23645"/>
<rect x="1149.50" y="421.1" width="1.4" height="10.7" fill="#f23645" fill-opacity="0.8"/>
<rect x="1145.65" y="426.0" width="9.1" height="4.9" fill="#f23645"/>
<rect x="1160.88" y="413.3" width="1.4" height="19.5" fill="#f23645" fill-opacity="0.8"/>
<rect x="1157.03" y="423.0" width="9.1" height="5.9" fill="#f23645"/>
<rect x="1172.26" y="422.1" width="1.4" height="10.7" fill="#f23645" fill-opacity="0.8"/>
<rect x="1168.41" y="427.9" width="9.1" height="2.0" fill="#f23645"/>
<rect x="1183.64" y="423.0" width="1.4" height="9.8" fill="#4caf50" fill-opacity="0.8"/>
<rect x="1179.79" y="425.0" width="9.1" height="4.9" fill="#4caf50"/>
<rect x="1195.02" y="415.2" width="1.4" height="14.7" fill="#4caf50" fill-opacity="0.8"/>
<rect x="1191.17" y="418.2" width="9.1" height="7.8" fill="#4caf50"/>
<rect x="1206.40" y="411.3" width="1.4" height="15.7" fill="#f23645" fill-opacity="0.8"/>
<rect x="1202.55" y="418.2" width="9.1" height="5.8" fill="#f23645"/>
<rect x="1217.78" y="400.6" width="1.4" height="23.4" fill="#4caf50" fill-opacity="0.8"/>
<rect x="1213.93" y="404.5" width="9.1" height="19.5" fill="#4caf50"/>
<rect x="1229.16" y="401.6" width="1.4" height="5.4" fill="#4caf50" fill-opacity="0.8"/>
<rect x="1225.31" y="403.5" width="9.1" height="2.0" fill="#4caf50"/>
<rect x="1240.54" y="401.6" width="1.4" height="11.7" fill="#4caf50" fill-opacity="0.8"/>
<rect x="1236.69" y="401.6" width="9.1" height="2.9" fill="#4caf50"/>
<rect x="1251.92" y="394.8" width="1.4" height="9.9" fill="#4caf50" fill-opacity="0.8"/>
<rect x="1248.07" y="401.0" width="9.1" height="1.8" fill="#4caf50"/>
<rect x="1263.30" y="387.6" width="1.4" height="20.5" fill="#4caf50" fill-opacity="0.8"/>
<rect x="1259.45" y="395.8" width="9.1" height="6.9" fill="#4caf50"/>
<rect x="1274.68" y="360.3" width="1.4" height="38.4" fill="#4caf50" fill-opacity="0.8"/>
<rect x="1270.83" y="385.3" width="9.1" height="11.1" fill="#4caf50"/>
<rect x="1286.06" y="373.0" width="1.4" height="20.9" fill="#4caf50" fill-opacity="0.8"/>
<rect x="1282.21" y="379.2" width="9.1" height="6.8" fill="#4caf50"/>
<rect x="1297.44" y="373.0" width="1.4" height="17.9" fill="#f23645" fill-opacity="0.8"/>
<rect x="1293.59" y="379.2" width="9.1" height="7.8" fill="#f23645"/>
<rect x="1308.82" y="365.4" width="1.4" height="22.6" fill="#4caf50" fill-opacity="0.8"/>
<rect x="1304.97" y="365.4" width="9.1" height="21.6" fill="#4caf50"/>
<rect x="1320.20" y="356.0" width="1.4" height="20.3" fill="#f23645" fill-opacity="0.8"/>
<rect x="1316.35" y="365.4" width="9.1" height="10.9" fill="#f23645"/>
<rect x="1331.58" y="371.0" width="1.4" height="14.1" fill="#f23645" fill-opacity="0.8"/>
<rect x="1327.73" y="375.3" width="9.1" height="5.9" fill="#f23645"/>
<rect x="1342.96" y="363.2" width="1.4" height="21.9" fill="#f23645" fill-opacity="0.8"/>
<rect x="1339.11" y="380.2" width="9.1" height="4.9" fill="#f23645"/>
<rect x="1354.34" y="384.1" width="1.4" height="25.4" fill="#f23645" fill-opacity="0.8"/>
<rect x="1350.49" y="384.1" width="9.1" height="24.4" fill="#f23645"/>
<rect x="1365.72" y="376.3" width="1.4" height="33.2" fill="#4caf50" fill-opacity="0.8"/>
<rect x="1361.87" y="377.3" width="9.1" height="31.2" fill="#4caf50"/>
<rect x="1377.10" y="375.3" width="1.4" height="15.6" fill="#f23645" fill-opacity="0.8"/>
<rect x="1373.25" y="377.3" width="9.1" height="10.7" fill="#f23645"/>
<rect x="1388.48" y="383.1" width="1.4" height="6.9" fill="#4caf50" fill-opacity="0.8"/>
<rect x="1384.63" y="385.3" width="9.1" height="2.7" fill="#4caf50"/>
<rect x="1399.86" y="382.3" width="1.4" height="4.7" fill="#4caf50" fill-opacity="0.8"/>
<rect x="1396.01" y="385.3" width="9.1" height="1.3" fill="#4caf50"/>
<rect x="1411.24" y="385.3" width="1.4" height="4.7" fill="#f23645" fill-opacity="0.8"/>
<rect x="1407.39" y="385.3" width="9.1" height="3.3" fill="#f23645"/>
</g>
<line x1="238.9" y1="421.6" x2="820" y2="69.5" stroke="#2962ff" stroke-width="2.5" stroke-linecap="butt"/>
<line x1="170.5" y1="643.4" x2="683.7" y2="488.2" stroke="#2962ff" stroke-width="2.5" stroke-linecap="butt"/>
<line x1="117.8" y1="388.5" x2="1418" y2="388.5" stroke="#b4b7c2" stroke-opacity="0.82" stroke-width="1.25" stroke-dasharray="5.3 5.6" fill="none"/>
<line x1="558.8" y1="65.2" x2="558.8" y2="670" stroke="#6e7284" stroke-opacity="0.95" stroke-width="1.9" stroke-dasharray="5.3 5.6" fill="none"/>
</g>
<rect x="1394.4" y="637.4" width="31" height="31.5" rx="5" fill="#0b0d13" fill-opacity="0.35"/>
<rect x="1395.4" y="637.6" width="29.3" height="29.3" rx="4.5" fill="#2a2e39"/>
<g fill="none" stroke="#d1d4dc" stroke-width="1.9" stroke-linecap="butt" stroke-linejoin="miter">
<polyline points="1404,649.3 1407.8,652.9 1404,656.5"/>
<polyline points="1408.3,645.8 1416,652.9 1408.8,660.3"/>
</g>
<g fill="none" stroke="#b2b5be" stroke-width="1.7" stroke-linejoin="round">
<polygon points="1471.6,691.4 1476,683.6 1484.8,683.6 1489.2,691.4 1484.8,699.2 1476,699.2"/>
<circle cx="1480.4" cy="691.4" r="2.4"/>
</g>
<g fill="#adb0ba" stroke="#adb0ba" stroke-width="0.25" font-size="14.7px">
<text x="1454.6" y="92.9" textLength="48.8" lengthAdjust="spacingAndGlyphs">1.09400</text>
<text x="1454.6" y="134.0" textLength="48.8" lengthAdjust="spacingAndGlyphs">1.09200</text>
<text x="1454.6" y="175.1" textLength="48.8" lengthAdjust="spacingAndGlyphs">1.09000</text>
<text x="1454.6" y="216.2" textLength="48.8" lengthAdjust="spacingAndGlyphs">1.08800</text>
<text x="1454.6" y="257.3" textLength="48.8" lengthAdjust="spacingAndGlyphs">1.08600</text>
<text x="1454.6" y="298.4" textLength="48.8" lengthAdjust="spacingAndGlyphs">1.08400</text>
<text x="1454.6" y="339.5" textLength="48.8" lengthAdjust="spacingAndGlyphs">1.08200</text>
<text x="1454.6" y="380.6" textLength="48.8" lengthAdjust="spacingAndGlyphs">1.08000</text>
<text x="1454.6" y="421.7" textLength="48.8" lengthAdjust="spacingAndGlyphs">1.07800</text>
<text x="1454.6" y="462.8" textLength="48.8" lengthAdjust="spacingAndGlyphs">1.07600</text>
<text x="1454.6" y="485.2" textLength="34.2" lengthAdjust="spacingAndGlyphs">80.00</text>
<text x="1454.6" y="551.4" textLength="34.2" lengthAdjust="spacingAndGlyphs">60.00</text>
<text x="1454.6" y="615.7" textLength="34.2" lengthAdjust="spacingAndGlyphs">40.00</text>
</g>
<g fill="#adb0ba" stroke="#adb0ba" stroke-width="0.25" font-size="14.7px" text-anchor="middle">
<text x="239.5" y="696.4" textLength="33.4" lengthAdjust="spacingAndGlyphs">12:00</text>
<text x="376" y="696.4" textLength="15.2" lengthAdjust="spacingAndGlyphs">30</text>
<text x="649" y="696.4" textLength="15.2" lengthAdjust="spacingAndGlyphs">31</text>
<text x="785.5" y="696.4" textLength="33.4" lengthAdjust="spacingAndGlyphs">12:00</text>
<text x="922" y="696.4" textLength="24.2" lengthAdjust="spacingAndGlyphs" font-weight="bold">Sep</text>
<text x="1058.5" y="696.4" textLength="33.4" lengthAdjust="spacingAndGlyphs">12:00</text>
<text x="1195.2" y="696.4" textLength="8.2" lengthAdjust="spacingAndGlyphs">4</text>
<text x="1331.5" y="696.4" textLength="33.4" lengthAdjust="spacingAndGlyphs">12:00</text>
</g>
<rect x="472" y="674.2" width="170.5" height="29" rx="2.5" fill="#363a45"/>
<text x="483.6" y="696.4" fill="#ffffff" stroke="#ffffff" stroke-width="0.25" font-size="14.3px" textLength="99" lengthAdjust="spacingAndGlyphs">Wed 30 Aug '23</text>
<text x="598.8" y="696.4" fill="#ffffff" stroke="#ffffff" stroke-width="0.25" font-size="14.3px" textLength="33.7" lengthAdjust="spacingAndGlyphs">16:00</text>
<rect x="1418" y="375.7" width="91.2" height="25.8" rx="2.5" fill="#363a45"/>
<circle cx="1431" cy="388.5" r="9.3" fill="none" stroke="#d9dade" stroke-width="1.3"/>
<path d="M1426.9 388.5 H1435.1 M1431 384.4 V392.6" stroke="#d9dade" stroke-width="1.4" fill="none"/>
<text x="1454.6" y="393.9" fill="#ffffff" stroke="#ffffff" stroke-width="0.25" font-size="14.6px" textLength="48.8" lengthAdjust="spacingAndGlyphs">1.07934</text>
</g>
<rect x="116.7" y="18.5" width="1398.8" height="731.6" rx="22" ry="22" fill="none" stroke="#d6d6d6" stroke-width="1.4"/>
<text transform="translate(77.1,444) rotate(-90)" fill="#ffffff" font-weight="bold" font-size="63px" textLength="187" lengthAdjust="spacingAndGlyphs">Binolla</text>
<g fill="none" stroke="url(#logog)" stroke-width="6.6" stroke-linecap="round" stroke-linejoin="round">
<path d="M25 507 V489.2 A18.6 20.2 0 0 1 56.25 474.4 A18.6 20.2 0 0 1 87.5 489.2 V507"/>
<path d="M36.8 507 V489.2 A6.8 6.8 0 0 1 50.4 489.2 V507"/>
<path d="M62.1 507 V489.2 A6.8 6.8 0 0 1 75.7 489.2 V507"/>
</g>
</svg>
</body>
</html>
